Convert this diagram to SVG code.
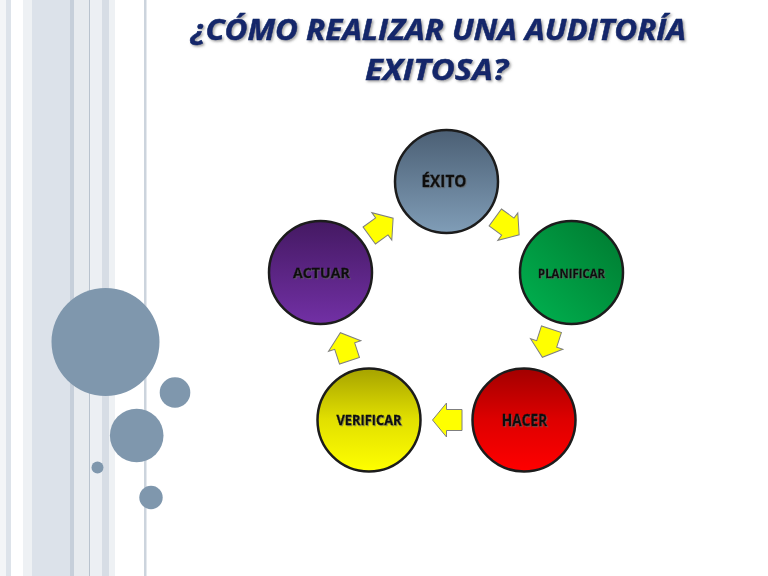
<svg xmlns="http://www.w3.org/2000/svg" xmlns:xlink="http://www.w3.org/1999/xlink" width="768" height="576" viewBox="0 0 768 576">
  <style>
    .title { font-family: "Open Sans", "Liberation Sans", sans-serif; font-weight: 700; font-style: italic; font-size: 28px; fill: #12286a; stroke: #12286a; stroke-width: 0.5; text-anchor: middle; }
    .lbl { font-family: "Open Sans", "Liberation Sans", sans-serif; font-weight: 700; fill: #111; stroke: #111; stroke-width: 0.35; text-anchor: middle; }
    .node { stroke: #1c1c1c; stroke-width: 2.5; }
    .arrow { fill: #ffff00; stroke: #7f7f7f; stroke-width: 1; stroke-linejoin: miter; }
    .dot { fill: #7f97ad; }
  </style>
  <defs>
    <filter id="tshadow" x="-10%" y="-30%" width="130%" height="170%">
      <feDropShadow dx="1.5" dy="1.5" stdDeviation="0.8" flood-color="#555" flood-opacity="0.55"/>
    </filter>
    <filter id="lshadow" x="-10%" y="-30%" width="130%" height="170%">
      <feDropShadow dx="1" dy="1" stdDeviation="0.7" flood-color="#666" flood-opacity="0.6"/>
    </filter>
    <linearGradient id="gExito" x1="0" y1="0" x2="0" y2="1">
      <stop offset="0" stop-color="#4b5f74"/>
      <stop offset="1" stop-color="#809db7"/>
    </linearGradient>
    <linearGradient id="gPlan" x1="1" y1="0" x2="0" y2="1">
      <stop offset="0" stop-color="#00782f"/>
      <stop offset="1" stop-color="#00b451"/>
    </linearGradient>
    <linearGradient id="gActuar" x1="0" y1="0" x2="0" y2="1">
      <stop offset="0" stop-color="#441962"/>
      <stop offset="1" stop-color="#7230a5"/>
    </linearGradient>
    <linearGradient id="gVerif" x1="0" y1="0" x2="0" y2="1">
      <stop offset="0" stop-color="#a6a300"/>
      <stop offset="0.5" stop-color="#e2e000"/>
      <stop offset="1" stop-color="#ffff00"/>
    </linearGradient>
    <linearGradient id="gHacer" x1="0" y1="0" x2="0" y2="1">
      <stop offset="0" stop-color="#a20000"/>
      <stop offset="0.5" stop-color="#de0000"/>
      <stop offset="1" stop-color="#ff0000"/>
    </linearGradient>
    <path id="arr" d="M-14.5,-10.5 L1,-10.5 L1,-17 L15,0 L1,17 L1,10.5 L-14.5,10.5 Z"/>
  </defs>

  <rect x="0" y="0" width="768" height="576" fill="#ffffff"/>

  <g id="background">
    <rect x="0" y="0" width="6" height="576" fill="#f3f5f7"/>
    <rect x="6" y="0" width="5" height="576" fill="#dde3ea"/>
    <rect x="23" y="0" width="9" height="576" fill="#eef1f4"/>
    <rect x="32" y="0" width="38" height="576" fill="#dce2ea"/>
    <rect x="70" y="0" width="4" height="576" fill="#c6cfda"/>
    <rect x="74" y="0" width="15" height="576" fill="#e7ebef"/>
    <rect x="89" y="0" width="1.2" height="576" fill="#b9c3ce"/>
    <rect x="90.2" y="0" width="11.8" height="576" fill="#eceff3"/>
    <rect x="102" y="0" width="7" height="576" fill="#d7dde5"/>
    <rect x="109" y="0" width="6" height="576" fill="#eef1f4"/>
    <rect x="144" y="0" width="2.5" height="576" fill="#ccd4dd"/>
    <circle class="dot" cx="105.5" cy="342" r="54"/>
    <circle class="dot" cx="175" cy="392.5" r="15.3"/>
    <circle class="dot" cx="136.7" cy="435.5" r="26.8"/>
    <circle class="dot" cx="97.5" cy="467.5" r="6"/>
    <circle class="dot" cx="151" cy="497.5" r="11.7"/>
  </g>

  <g id="title" filter="url(#tshadow)">
    <text class="title" x="438.5" y="40" textLength="495" lengthAdjust="spacingAndGlyphs">¿CÓMO REALIZAR UNA AUDITORÍA</text>
    <text class="title" x="436.5" y="80" textLength="143" lengthAdjust="spacingAndGlyphs">EXITOSA?</text>
  </g>

  <g id="connectors">
    <use xlink:href="#arr" class="arrow" transform="translate(507,226) rotate(36)"/>
    <use xlink:href="#arr" class="arrow" transform="translate(547,343) rotate(108)"/>
    <use xlink:href="#arr" class="arrow" transform="translate(447.5,420) rotate(180)"/>
    <use xlink:href="#arr" class="arrow" transform="translate(345,347) rotate(252)"/>
    <use xlink:href="#arr" class="arrow" transform="translate(381,227) rotate(324)"/>
  </g>

  <g id="exito">
    <circle class="node" cx="446.5" cy="181.5" r="51.5" fill="url(#gExito)"/>
    <text class="lbl" x="444" y="187" font-size="16" textLength="45" lengthAdjust="spacingAndGlyphs" filter="url(#lshadow)">ÉXITO</text>
  </g>

  <g id="planificar">
    <circle class="node" cx="571.5" cy="272.5" r="51.5" fill="url(#gPlan)"/>
    <text class="lbl" x="571.5" y="277.5" font-size="13" textLength="67" lengthAdjust="spacingAndGlyphs" filter="url(#lshadow)">PLANIFICAR</text>
  </g>

  <g id="hacer">
    <circle class="node" cx="524" cy="420" r="51.5" fill="url(#gHacer)"/>
    <text class="lbl" x="524.5" y="426" font-size="16.5" textLength="45.5" lengthAdjust="spacingAndGlyphs" filter="url(#lshadow)">HACER</text>
  </g>

  <g id="verificar">
    <circle class="node" cx="369" cy="420" r="51.5" fill="url(#gVerif)"/>
    <text class="lbl" x="369" y="425" font-size="14" textLength="65" lengthAdjust="spacingAndGlyphs" filter="url(#lshadow)">VERIFICAR</text>
  </g>

  <g id="actuar">
    <circle class="node" cx="320.5" cy="272.5" r="51.5" fill="url(#gActuar)"/>
    <text class="lbl" x="321.5" y="278" font-size="15" textLength="57" lengthAdjust="spacingAndGlyphs" filter="url(#lshadow)">ACTUAR</text>
  </g>
</svg>
